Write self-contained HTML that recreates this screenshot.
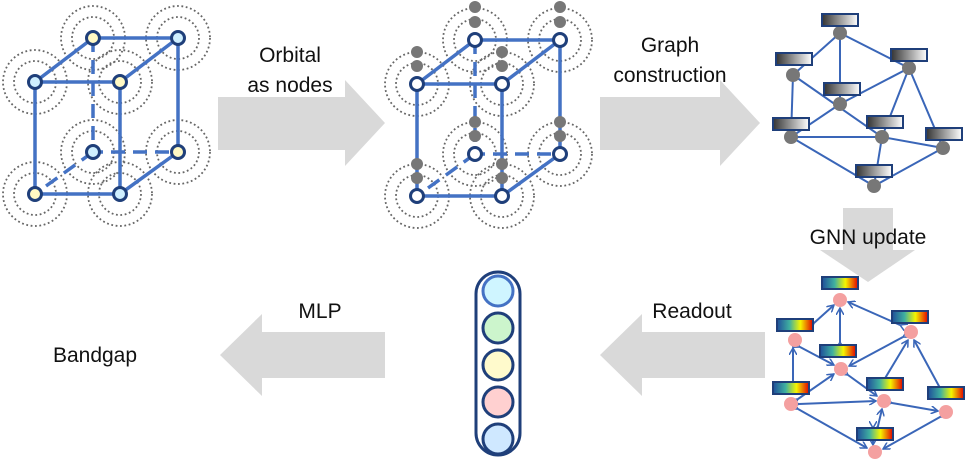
<!DOCTYPE html><html><head><style>body{margin:0;background:#fff}svg{display:block}text{font-family:"Liberation Sans",sans-serif;font-size:21px;fill:#111}</style></head><body>
<svg width="966" height="464" viewBox="0 0 966 464">
<defs>
<linearGradient id="gg" x1="0" x2="1"><stop offset="0" stop-color="#333"/><stop offset="1" stop-color="#fff"/></linearGradient>
<linearGradient id="rb" x1="0" x2="1"><stop offset="0" stop-color="#1f4e9a"/><stop offset="0.35" stop-color="#3fb0a0"/><stop offset="0.65" stop-color="#f5f500"/><stop offset="1" stop-color="#e00000"/></linearGradient>
<marker id="ah" markerWidth="8" markerHeight="8" refX="7" refY="4" orient="auto" markerUnits="userSpaceOnUse"><path d="M0,0L7,4L0,8" fill="none" stroke="#3a66b8" stroke-width="1.5"/></marker>
<g id="orb"><circle r="21" fill="none" stroke="#666" stroke-width="1.8" stroke-dasharray="1.8 2.6"/><circle r="32" fill="none" stroke="#666" stroke-width="1.8" stroke-dasharray="1.8 2.6"/></g>
</defs>
<g fill="#d9d9d9">
<polygon points="218,97 345,97 345,80 385,123 345,166 345,150 218,150"/>
<polygon points="600,97 720,97 720,80 760,123 720,166 720,150 600,150"/>
<polygon points="843,208 893,208 893,250 915,250 868,282 820,250 843,250"/>
<polygon points="385,332 262,332 262,314 220,355 262,396 262,378 385,378"/>
<polygon points="765,332 642,332 642,314 600,355 642,396 642,378 765,378"/>
</g>
<text x="290" y="62" text-anchor="middle">Orbital</text><text x="290" y="92" text-anchor="middle">as nodes</text>
<text x="670" y="52" text-anchor="middle">Graph</text><text x="670" y="82" text-anchor="middle">construction</text>
<text x="868" y="244" text-anchor="middle">GNN update</text>
<text x="320" y="318" text-anchor="middle">MLP</text>
<text x="692" y="318" text-anchor="middle">Readout</text>
<text x="95" y="362" text-anchor="middle">Bandgap</text>
<g>
<use href="#orb" x="93" y="38"/><use href="#orb" x="178" y="38"/><use href="#orb" x="35" y="82"/><use href="#orb" x="120" y="82"/><use href="#orb" x="93" y="152"/><use href="#orb" x="178" y="152"/><use href="#orb" x="35" y="194"/><use href="#orb" x="120" y="194"/>
<g stroke="#4472c4" stroke-width="3.5" fill="none">
<path d="M93,38H178M35,82H120M35,194H120M35,82V194M120,82V194M178,38V152M93,38L35,82M178,38L120,82M178,152L120,194"/>
<path d="M93,38V152H178M93,152L35,194" stroke-dasharray="14 8"/></g>
<g stroke="#1f3f7a" stroke-width="3">
<circle cx="93" cy="38" r="6.5" fill="#fff9c4"/><circle cx="178" cy="38" r="6.5" fill="#cfefff"/><circle cx="35" cy="82" r="6.5" fill="#cfefff"/><circle cx="120" cy="82" r="6.5" fill="#fff9c4"/><circle cx="93" cy="152" r="6.5" fill="#cfefff"/><circle cx="178" cy="152" r="6.5" fill="#fff9c4"/><circle cx="35" cy="194" r="6.5" fill="#fff9c4"/><circle cx="120" cy="194" r="6.5" fill="#cfefff"/></g>
</g>
<g transform="translate(382,2)">
<use href="#orb" x="93" y="38"/><use href="#orb" x="178" y="38"/><use href="#orb" x="35" y="82"/><use href="#orb" x="120" y="82"/><use href="#orb" x="93" y="152"/><use href="#orb" x="178" y="152"/><use href="#orb" x="35" y="194"/><use href="#orb" x="120" y="194"/>
<g stroke="#4472c4" stroke-width="3.5" fill="none">
<path d="M93,38H178M35,82H120M35,194H120M35,82V194M120,82V194M178,38V152M93,38L35,82M178,38L120,82M178,152L120,194"/>
<path d="M93,38V152H178M93,152L35,194" stroke-dasharray="14 8"/></g>
<g fill="#777">
<circle cx="93" cy="20" r="6"/><circle cx="93" cy="5" r="6"/><circle cx="178" cy="20" r="6"/><circle cx="178" cy="5" r="6"/>
<circle cx="35" cy="64" r="6"/><circle cx="35" cy="50" r="6"/><circle cx="120" cy="64" r="6"/><circle cx="120" cy="50" r="6"/>
<circle cx="93" cy="134" r="6"/><circle cx="93" cy="120" r="6"/><circle cx="178" cy="134" r="6"/><circle cx="178" cy="120" r="6"/>
<circle cx="35" cy="176" r="6"/><circle cx="35" cy="162" r="6"/><circle cx="120" cy="176" r="6"/><circle cx="120" cy="162" r="6"/></g>
<g stroke="#1f3f7a" stroke-width="3" fill="#fff">
<circle cx="93" cy="38" r="6.5"/><circle cx="178" cy="38" r="6.5"/><circle cx="35" cy="82" r="6.5"/><circle cx="120" cy="82" r="6.5"/><circle cx="93" cy="152" r="6.5"/><circle cx="178" cy="152" r="6.5"/><circle cx="35" cy="194" r="6.5"/><circle cx="120" cy="194" r="6.5"/></g>
</g>
<g stroke="#3a66b8" stroke-width="2" fill="none">
<path d="M840,33L793,75M840,33V104M840,33L909,68M793,75L882,137M909,68L840,104M909,68L882,137M909,68L943,148M840,104L791,137M791,137L882,137M791,137L874,186M882,137L943,148M882,137L874,186M943,148L874,186M793,75L791,137"/></g>
<g fill="#777"><circle cx="840" cy="33" r="7"/><circle cx="793" cy="75" r="7"/><circle cx="909" cy="68" r="7"/><circle cx="840" cy="104" r="7"/><circle cx="791" cy="137" r="7"/><circle cx="882" cy="137" r="7"/><circle cx="943" cy="148" r="7"/><circle cx="874" cy="186" r="7"/></g>
<g fill="url(#gg)" stroke="#1f3f7a" stroke-width="2">
<rect x="822" y="14" width="36" height="12"/><rect x="776" y="53" width="36" height="12"/><rect x="891" y="49" width="36" height="12"/><rect x="824" y="83" width="36" height="12"/><rect x="773" y="118" width="36" height="12"/><rect x="867" y="116" width="36" height="12"/><rect x="926" y="128" width="36" height="12"/><rect x="856" y="165" width="36" height="12"/></g>
<g stroke="#3a66b8" stroke-width="2" fill="none" marker-end="url(#ah)" marker-start="url(#ah)">
<path d="M814,323L834,305"/><path d="M840,342V308"/><path d="M900,325L848,302"/><path d="M800,347L834,365"/><path d="M903,337L849,366"/><path d="M848,375L877,396"/><path d="M798,399L834,374"/><path d="M793,381V348"/><path d="M799,404L876,401"/><path d="M884,380L908,340"/><path d="M940,388L914,340"/><path d="M892,403L938,411"/><path d="M878,426L882,409"/><path d="M798,409L867,448"/><path d="M940,417L883,449"/><path d="M873,428L873,445"/>
</g>
<g fill="#f4a0a0"><circle cx="840" cy="300" r="7"/><circle cx="795" cy="340" r="7"/><circle cx="911" cy="332" r="7"/><circle cx="841" cy="369" r="7"/><circle cx="791" cy="404" r="7"/><circle cx="884" cy="401" r="7"/><circle cx="946" cy="412" r="7"/><circle cx="875" cy="452" r="7"/></g>
<g fill="url(#rb)" stroke="#1f3f7a" stroke-width="2">
<rect x="822" y="277" width="36" height="12"/><rect x="777" y="319" width="36" height="12"/><rect x="892" y="311" width="36" height="12"/><rect x="820" y="345" width="36" height="12"/><rect x="773" y="382" width="36" height="12"/><rect x="867" y="378" width="36" height="12"/><rect x="928" y="387" width="36" height="12"/><rect x="857" y="428" width="36" height="12"/></g>
<rect x="476" y="272" width="44" height="183" rx="22" fill="#fff" stroke="#1f3f7a" stroke-width="3"/>
<g stroke="#1f3f7a" stroke-width="3">
<circle cx="498" cy="291" r="15" fill="#cff5ff" stroke="#4472c4"/><circle cx="498" cy="328" r="15" fill="#ccf5cc"/><circle cx="498" cy="365" r="15" fill="#fffacc"/><circle cx="498" cy="402" r="15" fill="#ffd0d0"/><circle cx="498" cy="439" r="15" fill="#cfe8ff"/></g>
</svg></body></html>
